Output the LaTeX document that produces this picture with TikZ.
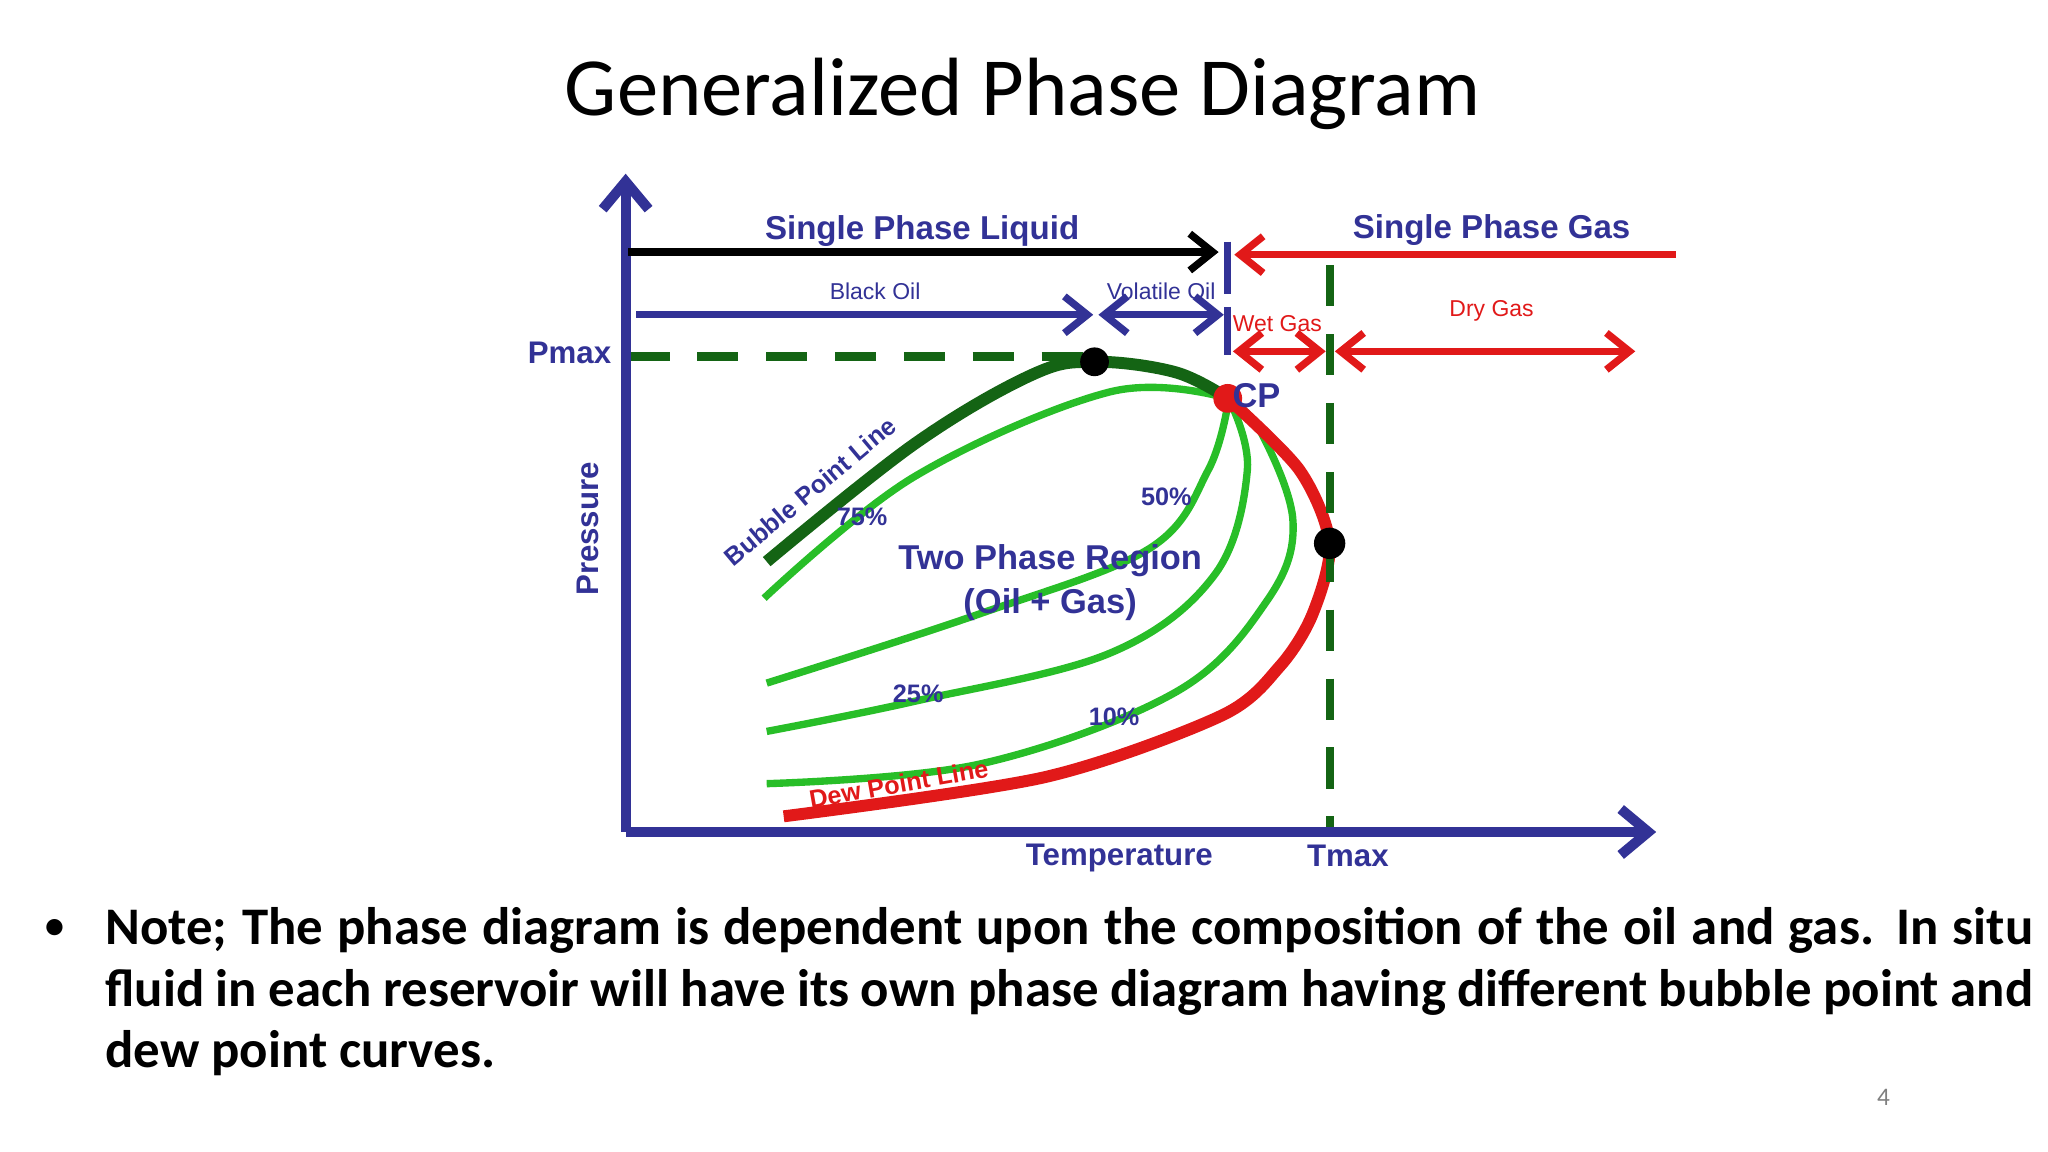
\documentclass[tikz,border=0pt]{standalone}
\usepackage{fontspec}
\setmainfont{Carlito}
\newfontfamily\arial{Liberation Sans}
\usetikzlibrary{arrows.meta}
\definecolor{axblue}{RGB}{50,50,150}
\definecolor{dgreen}{RGB}{20,100,20}
\definecolor{lgreen}{RGB}{40,190,40}
\definecolor{rred}{RGB}{225,25,25}
\tikzset{
 lab/.style={font=\arial\bfseries},
 ax/.style={axblue,line width=2.2pt,-{Straight Barb[length=6pt,width=10pt]}},
 dbl/.style={line width=1.6pt,{Straight Barb[length=5pt,width=8pt]}-{Straight Barb[length=5pt,width=8pt]}},
 sgl/.style={line width=1.6pt,-{Straight Barb[length=5pt,width=8pt]}},
 gc/.style={lgreen,line width=1.6pt},
}
\begin{document}
\begin{tikzpicture}[x=0.01cm,y=-0.01cm]
\useasboundingbox (0,0) rectangle (1568,882);
\node[font=\fontsize{18}{22}\selectfont] (title) at (783,72) {Generalized Phase Diagram};
% coordinates
\coordinate (o) at (479,637);
\coordinate (ytop) at (479,133);
\coordinate (xend) at (1268,637);
% curves
\draw[gc] plot[smooth,tension=0.6] coordinates {(585,458) (700,365) (850,300) (940,305)};
\draw[gc] plot[smooth,tension=0.6] coordinates {(587,523) (750,470) (880,420) (925,360) (940,310)};
\draw[gc] plot[smooth,tension=0.6] coordinates {(587,560) (700,537) (850,500) (930,440) (955,360) (942,308)};
\draw[gc] plot[smooth,tension=0.6] coordinates {(587,600) (750,585) (900,530) (970,460) (990,400) (965,330) (942,307)};
\draw[dgreen,line width=2.6pt] plot[smooth,tension=0.6] coordinates {(587,430) (700,340) (790,287) (838,277) (900,285) (940,305)};
\draw[rred,line width=2.6pt] plot[smooth,tension=0.5] coordinates {(940,305) (995,360) (1018,416) (1005,470) (980,510) (935,548) (800,595) (600,625)};
% dashed
\draw[dgreen,line width=1.8pt,dash pattern=on 9pt off 6pt] (481,273) -- (835,273);
\draw[dgreen,line width=1.8pt,dash pattern=on 9pt off 6pt] (1018,203) -- (1018,637);
% axes
\draw[ax] (o) -- (ytop);
\draw[ax] (o) -- (xend);
% top arrows
\draw[sgl,black] (481,193) -- (933,193);
\draw[sgl,rred] (1283,195) -- (945,195);
\draw[axblue,line width=1.6pt] (940,185) -- (940,225) (940,235) -- (940,272);
\draw[sgl,axblue] (487,241) -- (837,241);
\draw[dbl,axblue] (841,241) -- (937,241);
\draw[dbl,rred] (944,269) -- (1015,269);
\draw[dbl,rred] (1022,269) -- (1252,269);
% dots
\node[circle,fill=black,inner sep=0,minimum size=0.22cm] (bp) at (838,277) {};
\node[circle,fill=rred,inner sep=0,minimum size=0.22cm] (cp) at (940,305) {};
\node[circle,fill=black,inner sep=0,minimum size=0.24cm] (tm) at (1018,416) {};
% labels
\node[lab,axblue,font=\arial\bfseries\fontsize{7.2}{9}\selectfont] (spl) at (706,177) {Single Phase Liquid};
\node[lab,axblue,font=\arial\bfseries\fontsize{7.2}{9}\selectfont] (spg) at (1142,176) {Single Phase Gas};
\node[lab,axblue,font=\arial\fontsize{5}{6}\selectfont] (bo) at (670,223) {Black Oil};
\node[lab,axblue,font=\arial\fontsize{5}{6}\selectfont] (vo) at (889,223) {Volatile Oil};
\node[lab,rred,font=\arial\fontsize{5}{6}\selectfont] (wg) at (978,248) {Wet Gas};
\node[lab,rred,font=\arial\fontsize{5}{6}\selectfont] (dg) at (1142,238) {Dry Gas};
\node[lab,axblue,font=\arial\bfseries\fontsize{6.8}{9}\selectfont] (pm) at (436,270) {Pmax};
\node[lab,axblue,font=\arial\bfseries\fontsize{6.8}{9}\selectfont] (te) at (857,657) {Temperature};
\node[lab,axblue,font=\arial\bfseries\fontsize{6.8}{9}\selectfont] (tx) at (1032,655) {Tmax};
\node[lab,axblue,font=\arial\bfseries\fontsize{6.8}{9}\selectfont,rotate=90] (pr) at (450,405) {Pressure};
\node[lab,axblue,font=\arial\bfseries\fontsize{7.5}{9}\selectfont] (cpl) at (962,303) {CP};
\node[lab,axblue,font=\arial\bfseries\fontsize{7.5}{9.5}\selectfont,align=center] (tp) at (804,446) {Two Phase Region\\(Oil + Gas)};
\node[lab,axblue,font=\arial\bfseries\fontsize{5.5}{7}\selectfont] (p75) at (660,396) {75\%};
\node[lab,axblue,font=\arial\bfseries\fontsize{5.5}{7}\selectfont] (p50) at (893,380) {50\%};
\node[lab,axblue,font=\arial\bfseries\fontsize{5.5}{7}\selectfont] (p25) at (703,531) {25\%};
\node[lab,axblue,font=\arial\bfseries\fontsize{5.5}{7}\selectfont] (p10) at (853,549) {10\%};
\node[lab,axblue,font=\arial\bfseries\fontsize{5.5}{7}\selectfont,rotate=40] (bpl) at (620,376) {Bubble Point Line};
\node[lab,rred,font=\arial\bfseries\fontsize{5.5}{7}\selectfont,rotate=10] (dpl) at (688,600) {Dew Point Line};
% note
\node[font=\fontsize{10}{10}\selectfont] (bul) at (42,712) {•};
\node[anchor=north west,inner sep=0,text width=14.75cm,align=justify,font=\bfseries\fontsize{11.5}{13.4}\selectfont] (note) at (80,694) {Note; The phase diagram is dependent upon the composition of the oil and gas. In situ fluid in each reservoir will have its own phase diagram having different bubble point and dew point curves.};
\node[gray,font=\fontsize{5.5}{6}\selectfont] (pg) at (1442,840) {4};
\end{tikzpicture}
\end{document}
